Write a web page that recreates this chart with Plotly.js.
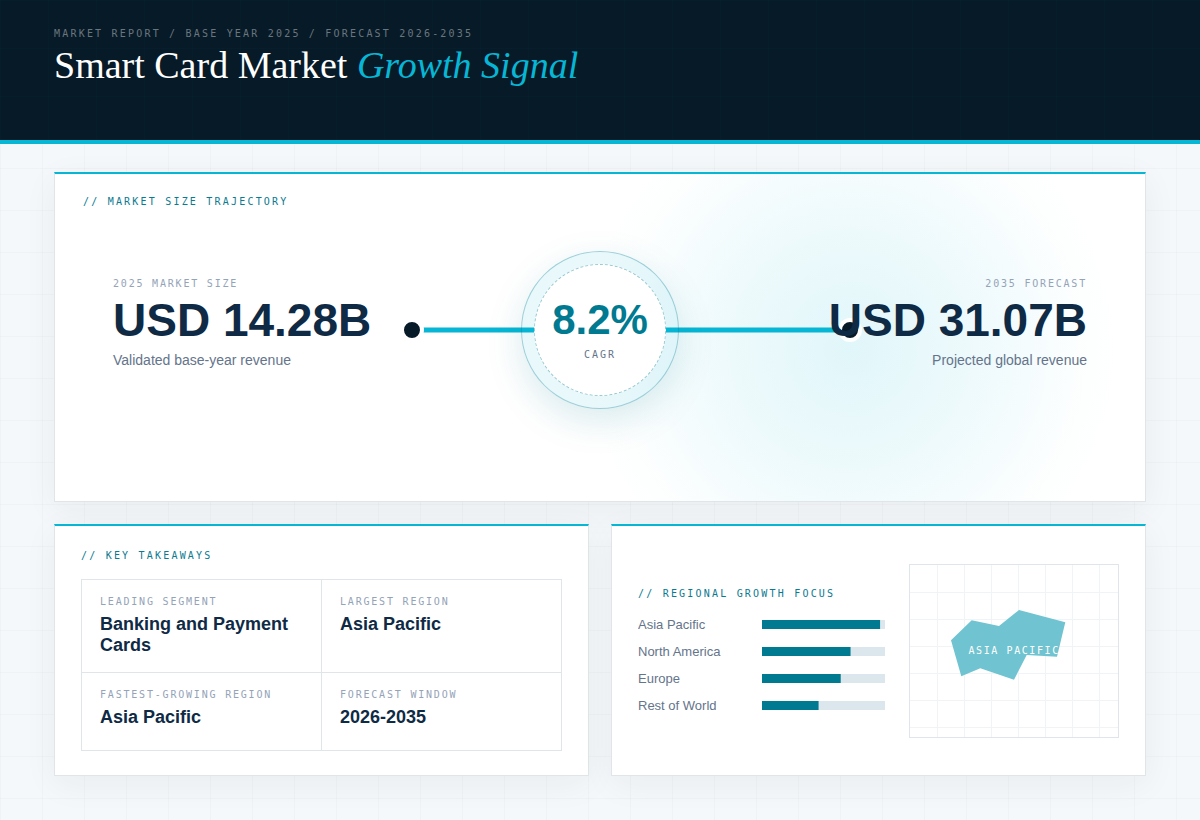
<!DOCTYPE html>
<html>
<head>
<meta charset="utf-8">
<script src="https://cdn.plot.ly/plotly-3.0.1.min.js"></script>
<style>
  html, body { margin: 0; padding: 0; }
  body {
    position: relative; width: 1200px; height: 820px; overflow: hidden;
    background-color: #f5f8fa;
    background-image:
      linear-gradient(rgba(10,40,60,.025) 1px, transparent 1px),
      linear-gradient(90deg, rgba(10,40,60,.025) 1px, transparent 1px);
    background-size: 42px 42px;
    font-family: "Liberation Sans", Arial, sans-serif;
  }
  .abs { position: absolute; white-space: nowrap; }
  .mono { font-family: "DejaVu Sans Mono", monospace; font-size: 10px; line-height: 12px; }
  .header {
    left: 0; top: 0; width: 1200px; height: 140px;
    background-color: #071a28;
    background-image:
      linear-gradient(rgba(0,180,212,.025) 1px, transparent 1px),
      linear-gradient(90deg, rgba(0,180,212,.025) 1px, transparent 1px);
    background-size: 48px 48px;
    border-bottom: 4px solid #06b6d4;
  }
  .eyebrow { left: 54px; top: 28px; color: #6a767e; letter-spacing: 2.2px; }
  .title { left: 54px; top: 42px; font-family: "Liberation Serif", serif; font-size: 38px; line-height: 46px; color: #fff; }
  .title em { color: #06b6d4; }
  .card {
    box-sizing: border-box; background: #fff;
    border: 1px solid #e0e5ea; border-top: 2px solid #06b6d4;
    box-shadow: 0 8px 32px rgba(10,40,60,.055);
  }
  .glow { left: 55px; top: 174px; width: 1090px; height: 327px;
    background: radial-gradient(circle 270px at 795px 175px, rgba(6,182,212,.12), rgba(6,182,212,.07) 45%, rgba(6,182,212,.035) 70%, rgba(6,182,212,.012) 85%, rgba(6,182,212,0) 100%); }
  .section { color: #0a7a90; letter-spacing: 2.2px; }
  .small { color: #94a3b8; letter-spacing: 1.8px; }
  .big { font-weight: 700; font-size: 46px; line-height: 52px; color: #0f2a45; }
  .sub { font-size: 14px; line-height: 18px; color: #64748b; }
  .ring { box-sizing: border-box; left: 521px; top: 251px; width: 158px; height: 158px; border-radius: 50%;
    border: 1px solid rgba(0,122,144,.32); background: rgba(6,182,212,.09);
    box-shadow: 0 12px 36px rgba(0,122,144,.15); }
  .inner { box-sizing: border-box; left: 534px; top: 264px; width: 132px; height: 132px; border-radius: 50%;
    border: 1px dashed rgba(0,122,144,.4); background: #fff; }
  .rate { left: 500px; width: 200px; top: 296px; text-align: center; font-weight: 700; font-size: 42px; line-height: 48px; color: #007a90; }
  .cagr { left: 500px; width: 200px; top: 349px; text-align: center; color: #64748b; letter-spacing: 2px; }
  .cell { box-sizing: border-box; border: 1px solid #e0e5ea; }
  .val { font-weight: 700; font-size: 18px; line-height: 21px; color: #0f2a45; }
  #map .annotation-text { letter-spacing: 1.6px; }
</style>
</head>
<body>
<div class="abs header"></div>
<div class="abs mono eyebrow">MARKET REPORT / BASE YEAR 2025 / FORECAST 2026-2035</div>
<div class="abs title">Smart Card Market <em>Growth Signal</em></div>

<div class="abs card" style="left:54px;top:172px;width:1092px;height:330px"></div>
<div class="abs glow"></div>
<div class="abs mono section" style="left:83px;top:196px">// MARKET SIZE TRAJECTORY</div>

<div id="trajectory" class="abs" style="left:372px;top:310px;width:518px;height:40px"></div>

<div class="abs mono small" style="left:113px;top:278px">2025 MARKET SIZE</div>
<div class="abs big" style="left:113px;top:294px">USD 14.28B</div>
<div class="abs sub" style="left:113px;top:351px">Validated base-year revenue</div>

<div class="abs mono small" style="right:113px;top:278px">2035 FORECAST</div>
<div class="abs big" style="right:113px;top:294px">USD 31.07B</div>
<div class="abs sub" style="right:113px;top:351px">Projected global revenue</div>

<div class="abs ring"></div>
<div class="abs inner"></div>
<div class="abs rate">8.2%</div>
<div class="abs mono cagr">CAGR</div>

<div class="abs card" style="left:54px;top:524px;width:535px;height:252px"></div>
<div class="abs mono section" style="left:81px;top:550px">// KEY TAKEAWAYS</div>
<div class="abs cell" style="left:81px;top:579px;width:241px;height:94px"></div>
<div class="abs cell" style="left:321px;top:579px;width:241px;height:94px"></div>
<div class="abs cell" style="left:81px;top:672px;width:241px;height:79px"></div>
<div class="abs cell" style="left:321px;top:672px;width:241px;height:79px"></div>
<div class="abs mono small" style="left:100px;top:596px">LEADING SEGMENT</div>
<div class="abs val" style="left:100px;top:614px">Banking and Payment<br>Cards</div>
<div class="abs mono small" style="left:340px;top:596px">LARGEST REGION</div>
<div class="abs val" style="left:340px;top:614px">Asia Pacific</div>
<div class="abs mono small" style="left:100px;top:689px">FASTEST-GROWING REGION</div>
<div class="abs val" style="left:100px;top:707px">Asia Pacific</div>
<div class="abs mono small" style="left:340px;top:689px">FORECAST WINDOW</div>
<div class="abs val" style="left:340px;top:707px">2026-2035</div>

<div class="abs card" style="left:611px;top:524px;width:535px;height:252px"></div>
<div class="abs mono section" style="left:638px;top:588px">// REGIONAL GROWTH FOCUS</div>
<div id="regions" class="abs" style="left:638px;top:611px;width:247px;height:108px"></div>
<div class="abs" style="left:909px;top:564px;width:208px;height:172px;border:1px solid #dfe5ea;background:#fff">
  <div id="map" style="width:208px;height:172px"></div>
</div>

<script>
const trajectoryYears = [2025, 2035]
const trajectoryLevel = [1, 1]

const regions = ['Asia Pacific', 'North America', 'Europe', 'Rest of World']
const regionValues = [96, 72, 64, 46]
const regionTrack = [100, 100, 100, 100]

const mapOutlineX = [61.7, 89, 109, 155.3, 147, 116.7, 104, 70.3, 51.3, 41, 61.7]
const mapOutlineY = [55.3, 61, 45, 57.3, 91.7, 90, 114.7, 103.3, 111.3, 75.3, 55.3]
const mapLabel = 'ASIA PACIFIC'

const config = { displayModeBar: false, staticPlot: true }
const bare = { visible: false, fixedrange: true }

Plotly.newPlot('trajectory', [{
  x: trajectoryYears,
  y: trajectoryLevel,
  mode: 'lines+markers',
  cliponaxis: false,
  line: { color: '#06b6d4', width: 5 },
  marker: { color: '#071a28', size: 20, line: { color: '#fff', width: 4 } },
  hoverinfo: 'skip',
}], {
  width: 518, height: 40,
  margin: { l: 0, r: 0, t: 0, b: 0 },
  paper_bgcolor: 'rgba(0,0,0,0)',
  plot_bgcolor: 'rgba(0,0,0,0)',
  showlegend: false,
  xaxis: { ...bare, range: [2024.087, 2035.913] },
  yaxis: { ...bare, range: [0, 2] },
}, config)

Plotly.newPlot('regions', [
  {
    type: 'bar', orientation: 'h', y: regions, x: regionTrack, width: 0.333,
    marker: { color: '#dce6ed' }, hoverinfo: 'skip',
  },
  {
    type: 'bar', orientation: 'h', y: regions, x: regionValues, width: 0.333,
    marker: { color: '#007a90' }, hoverinfo: 'skip',
  },
], {
  width: 247, height: 108,
  margin: { l: 124, r: 0, t: 0, b: 0 },
  barmode: 'overlay',
  paper_bgcolor: 'rgba(0,0,0,0)',
  plot_bgcolor: 'rgba(0,0,0,0)',
  showlegend: false,
  xaxis: { ...bare, range: [0, 100] },
  yaxis: { type: 'category', autorange: 'reversed', showticklabels: false, showgrid: false, zeroline: false, showline: false, ticks: '', fixedrange: true },
  annotations: regions.map(name => ({
    text: name, xref: 'paper', x: -126 / 123, xanchor: 'left',
    yref: 'y', y: name, yanchor: 'middle', showarrow: false,
    font: { family: 'Liberation Sans', size: 13, color: '#64748b' },
  })),
}, config)

const mapAxis = { dtick: 27, tick0: 0, showgrid: true, gridcolor: '#f1f4f6', gridwidth: 1, zeroline: false, showline: false, showticklabels: false, ticks: '', fixedrange: true }
Plotly.newPlot('map', [{
  x: mapOutlineX,
  y: mapOutlineY,
  mode: 'lines',
  fill: 'toself',
  fillcolor: '#70c3d0',
  line: { width: 0 },
  hoverinfo: 'skip',
}], {
  width: 208, height: 172,
  margin: { l: 0, r: 0, t: 0, b: 0 },
  paper_bgcolor: 'rgba(0,0,0,0)',
  plot_bgcolor: 'rgba(0,0,0,0)',
  showlegend: false,
  xaxis: { ...mapAxis, range: [0, 208] },
  yaxis: { ...mapAxis, range: [172, 0] },
  annotations: [{
    text: mapLabel, x: 66, y: 85, xanchor: 'left', yanchor: 'middle', showarrow: false,
    font: { family: 'DejaVu Sans Mono', size: 10, color: '#fff' },
  }],
}, config)
</script>
</body>
</html>
